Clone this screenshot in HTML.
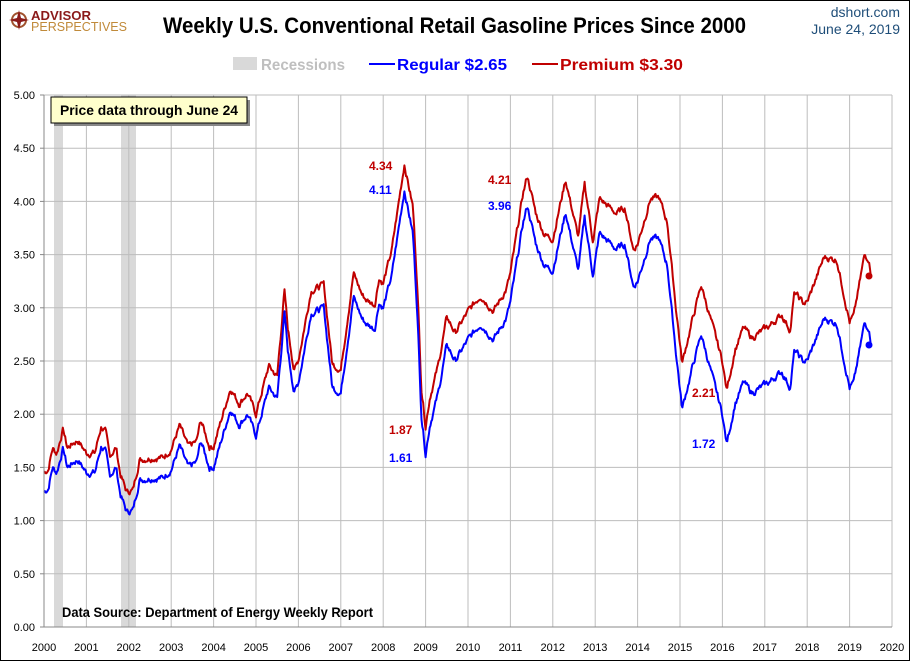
<!DOCTYPE html>
<html><head><meta charset="utf-8"><style>
body{margin:0;background:#fff}
svg{display:block;font-family:"Liberation Sans",sans-serif}
</style></head><body>
<svg id="s" width="910" height="661" viewBox="0 0 910 661" xmlns="http://www.w3.org/2000/svg">
<rect x="0.5" y="0.5" width="909" height="660" fill="#fff" stroke="#000"/>
<rect x="54" y="95" width="9" height="532" fill="#d9d9d9"/>
<rect x="121" y="95" width="15" height="532" fill="#d9d9d9"/>
<g id="gl"></g>
<path id="prem" fill="none" stroke="#c00000" stroke-width="2" stroke-linejoin="round"/>
<path id="reg" fill="none" stroke="#0000ff" stroke-width="2" stroke-linejoin="round"/>
<circle cx="869" cy="276" r="3.5" fill="#c00000"/>
<circle cx="869" cy="345" r="3.5" fill="#0000ff"/>
<line x1="44" y1="95" x2="44" y2="627" stroke="#888"/>
<line x1="44" y1="627" x2="892" y2="627" stroke="#888"/>
<g id="ticks" font-size="11" fill="#000"></g>
<circle cx="19" cy="20" r="7" fill="none" stroke="#a0522d" stroke-width="2"/>
<path d="M19 10 L21 18 L29 20 L21 22 L19 30 L17 22 L9 20 L17 18Z" fill="#8b1a1a"/>
<text x="31" y="20" font-size="13" font-weight="bold" fill="#8b1a1a" textLength="60" lengthAdjust="spacingAndGlyphs">ADVISOR</text>
<text x="31" y="31" font-size="13" fill="#c08a3a" textLength="96" lengthAdjust="spacingAndGlyphs">PERSPECTIVES</text>
<text x="163" y="33" font-size="22" font-weight="bold" fill="#000" textLength="583" lengthAdjust="spacingAndGlyphs">Weekly U.S. Conventional Retail Gasoline Prices Since 2000</text>
<text x="900" y="17" font-size="14" text-anchor="end" fill="#1f4e79">dshort.com</text>
<text x="900" y="34" font-size="14" text-anchor="end" fill="#1f4e79">June 24, 2019</text>
<rect x="233" y="57" width="24" height="13" fill="#d9d9d9"/>
<text x="261" y="70" font-size="16" font-weight="bold" fill="#bfbfbf" textLength="84" lengthAdjust="spacingAndGlyphs">Recessions</text>
<line x1="369" y1="64" x2="395" y2="64" stroke="#0000ff" stroke-width="2"/>
<text x="397" y="70" font-size="16" font-weight="bold" fill="#0000ff" textLength="110" lengthAdjust="spacingAndGlyphs">Regular  $2.65</text>
<line x1="532" y1="64" x2="558" y2="64" stroke="#c00000" stroke-width="2"/>
<text x="560" y="70" font-size="16" font-weight="bold" fill="#c00000" textLength="123" lengthAdjust="spacingAndGlyphs">Premium  $3.30</text>
<rect x="54" y="100" width="196" height="26" fill="#888"/>
<rect x="51" y="97" width="196" height="26" fill="#ffffcc" stroke="#000"/>
<text x="60" y="115" font-size="14" font-weight="bold" textLength="178" lengthAdjust="spacingAndGlyphs">Price data through June 24</text>
<text x="62" y="617" font-size="14" font-weight="bold" textLength="311" lengthAdjust="spacingAndGlyphs">Data Source: Department of Energy Weekly Report</text>
<g font-size="12" font-weight="bold">
<text x="369" y="170" fill="#c00000">4.34</text>
<text x="369" y="194" fill="#0000ff">4.11</text>
<text x="389" y="434" fill="#c00000">1.87</text>
<text x="389" y="462" fill="#0000ff">1.61</text>
<text x="488" y="184" fill="#c00000">4.21</text>
<text x="488" y="210" fill="#0000ff">3.96</text>
<text x="692" y="397" fill="#c00000">2.21</text>
<text x="692" y="448" fill="#0000ff">1.72</text>
</g>
</svg>
<script>
var X=function(y){return 44+(y-2000)*42.4},Y=function(p){return 627-p*106.4};
var g='',t='';
for(var i=0;i<=20;i++){var x=X(2000+i);if(i>0)g+='<line x1="'+x+'" y1="95" x2="'+x+'" y2="627" stroke="#bdbdbd"/>';
t+='<text x="'+x+'" y="651" text-anchor="middle">'+(2000+i)+'</text>';}
for(var k=1;k<=10;k++){var y=Y(k*0.5);g+='<line x1="44" y1="'+y+'" x2="892" y2="'+y+'" stroke="#bdbdbd"/>';}
for(var k=0;k<=10;k++){var y=Y(k*0.5);t+='<text x="35" y="'+(y+4)+'" text-anchor="end">'+(k*0.5).toFixed(2)+'</text><line x1="40" y1="'+y+'" x2="44" y2="'+y+'" stroke="#888"/>';}
document.getElementById('gl').innerHTML=g;document.getElementById('ticks').innerHTML=t;
var d=[2000.0,1.27,2000.1,1.30,2000.2,1.50,2000.3,1.45,2000.45,1.68,2000.55,1.50,2000.7,1.55,2000.8,1.57,2001.0,1.45,2001.2,1.45,2001.35,1.70,2001.45,1.65,2001.55,1.42,2001.7,1.50,2001.8,1.25,2001.95,1.08,2002.1,1.10,2002.25,1.38,2002.5,1.40,2002.8,1.40,2003.0,1.48,2003.2,1.70,2003.4,1.50,2003.6,1.55,2003.7,1.75,2003.9,1.50,2004.0,1.50,2004.4,2.05,2004.6,1.90,2004.8,2.00,2005.0,1.80,2005.3,2.25,2005.5,2.15,2005.67,2.95,2005.75,2.60,2005.9,2.20,2006.0,2.30,2006.3,2.95,2006.6,3.00,2006.8,2.25,2007.0,2.20,2007.3,3.10,2007.5,2.90,2007.6,2.85,2007.8,2.80,2007.9,3.05,2008.0,3.00,2008.2,3.30,2008.5,4.11,2008.6,3.90,2008.7,3.70,2008.8,3.00,2008.9,2.00,2009.0,1.63,2009.1,1.90,2009.3,2.20,2009.5,2.65,2009.7,2.50,2010.0,2.70,2010.3,2.85,2010.6,2.70,2010.9,2.90,2011.0,3.05,2011.3,3.80,2011.4,3.96,2011.6,3.60,2011.8,3.40,2012.0,3.35,2012.3,3.90,2012.6,3.35,2012.75,3.85,2012.95,3.30,2013.1,3.70,2013.5,3.55,2013.7,3.60,2013.9,3.20,2014.0,3.25,2014.3,3.65,2014.5,3.65,2014.7,3.40,2014.9,2.60,2015.05,2.05,2015.3,2.45,2015.5,2.75,2015.8,2.30,2016.0,2.00,2016.1,1.72,2016.3,2.10,2016.5,2.30,2016.7,2.20,2016.9,2.25,2017.1,2.30,2017.4,2.40,2017.6,2.25,2017.7,2.60,2017.9,2.50,2018.0,2.50,2018.4,2.90,2018.7,2.85,2018.85,2.55,2019.0,2.25,2019.1,2.30,2019.35,2.85,2019.45,2.82,2019.5,2.65];
var off=[2000,0.18,2005,0.2,2008,0.23,2009,0.26,2011,0.27,2014,0.35,2016,0.5,2018,0.55,2019,0.62,2019.5,0.65];
function o(y){for(var i=0;i<off.length-2;i+=2){if(y<=off[i+2]){var f=(y-off[i])/(off[i+2]-off[i]);return off[i+1]+f*(off[i+3]-off[i+1]);}}return 0.65;}
function v(y){for(var i=0;i<d.length-2;i+=2){if(y<=d[i+2]){var f=(y-d[i])/(d[i+2]-d[i]);return d[i+1]+f*(d[i+3]-d[i+1]);}}return d[d.length-1];}
var seed=7;function rnd(){seed=(seed*9301+49297)%233280;return seed/233280-0.5;}
var r='',p='',n=0;
for(var y=2000;y<=2019.5;y+=1/52){n=0.6*n+rnd()*0.05;var end=(2019.5-y)<0.03||y<2000.01;var val=v(y)+(end?0:n);
var c=r?'L':'M';r+=c+X(y).toFixed(1)+' '+Y(val).toFixed(1);p+=c+X(y).toFixed(1)+' '+Y(val+o(y)).toFixed(1);}
document.getElementById('reg').setAttribute('d',r);document.getElementById('prem').setAttribute('d',p);
</script>
</body></html>
